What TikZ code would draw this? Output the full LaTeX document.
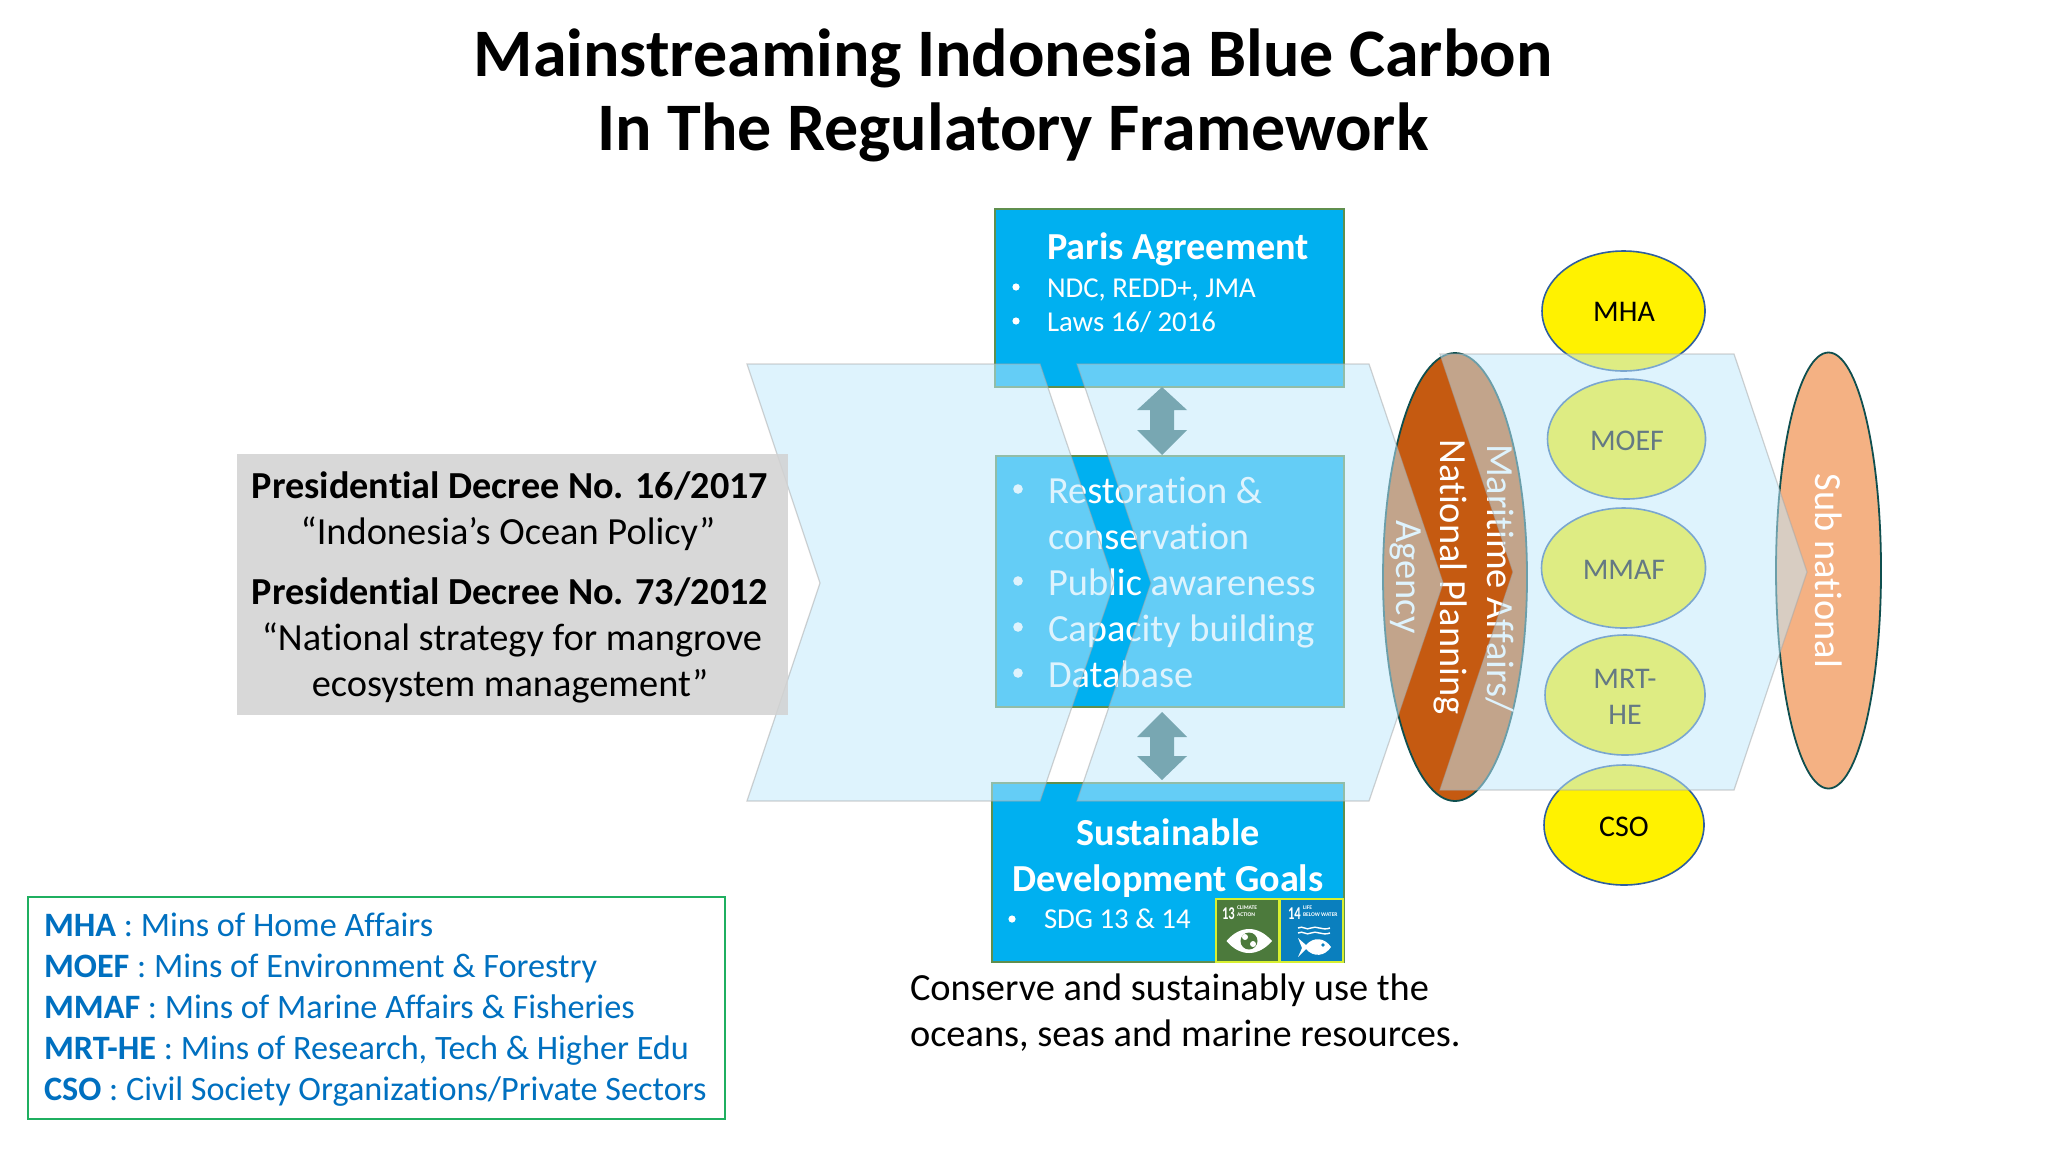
\documentclass[tikz,border=0pt]{standalone}
\usepackage{fontspec}
\setmainfont{Carlito}[Ligatures=NoCommon]
\newfontfamily\condfont{Carlito}[FakeStretch=0.7]
\definecolor{cyanbox}{HTML}{00B0F0}
\definecolor{chev}{RGB}{192,232,252}
\definecolor{boxedge}{HTML}{5F8F4E}
\definecolor{arrowc}{RGB}{42,97,98}
\definecolor{legendblue}{HTML}{0070C0}
\definecolor{legendedge}{HTML}{1FAF60}
\definecolor{ovaledge}{HTML}{2F5F9F}
\definecolor{ellipseedge}{HTML}{0F4F4F}
\definecolor{orangeel}{HTML}{C55A11}
\definecolor{peach}{HTML}{F4B183}
\definecolor{sdggreen}{HTML}{4C7A3C}
\definecolor{sdgblue}{HTML}{0A7FBE}
\definecolor{sdgedge}{HTML}{D8F030}
\definecolor{greybox}{RGB}{210,210,210}
\tikzset{
  x=0.5pt,y=-0.5pt,
  cyanrect/.style={draw=boxedge,line width=1.2pt,fill=cyanbox},
  chevshape/.style={fill=chev,fill opacity=0.52,draw=gray!70,draw opacity=0.5,line width=0.6pt},
  ovalshape/.style={draw=ovaledge,line width=0.8pt,fill=yellow},
  bigel/.style={draw=ellipseedge,line width=0.9pt},
  txt/.style={inner sep=0pt,outer sep=0pt,anchor=base west},
  ctr/.style={inner sep=0pt,outer sep=0pt,anchor=base},
  mid/.style={inner sep=0pt,outer sep=0pt,anchor=center,rotate=-90,text=white,font=\fontsize{19.2}{19.2}\selectfont},
  big/.style={font=\fontsize{19.2}{19.2}\selectfont},
  bigb/.style={font=\fontsize{19.1}{19.1}\selectfont\bfseries},
  small/.style={font=\fontsize{14.4}{14.4}\selectfont},
  ovaltext/.style={font=\fontsize{15}{15}\selectfont},
  dbl/.style={fill=arrowc,draw=none},
  sdgsq/.style={draw=sdgedge,line width=1pt},
  tiny/.style={inner sep=0pt,outer sep=0pt,anchor=base west,text=white},
  legendline/.style={inner sep=0pt,outer sep=0pt,anchor=base west,text=legendblue,font=\fontsize{17.1}{17.1}\selectfont}
}
\begin{document}
\begin{tikzpicture}
\useasboundingbox (0,0) rectangle (2048,1152);
\fill[white] (0,0) rectangle (2048,1152);
% title
\node[ctr,font=\fontsize{34}{34}\selectfont\bfseries] (title1) at (1013,76.5) {Mainstreaming Indonesia Blue Carbon};
\node[ctr,font=\fontsize{34}{34}\selectfont\bfseries] (title2) at (1013,150.5) {In The Regulatory Framework};
% cyan boxes
\draw[cyanrect] (995,209) rectangle (1344,387);
\draw[cyanrect] (996,456) rectangle (1344,707);
\draw[cyanrect] (992,783) rectangle (1344,962);
\node[txt,bigb,text=white] (parist) at (1047,259) {Paris Agreement};
\node[txt,small,text=white] (b1) at (1047,297) {NDC, REDD+, JMA};
\node[txt,small,text=white] (b2) at (1047,331) {Laws 16/ 2016};
\fill[white] (1016,287) circle (3.6) (1016,321) circle (3.6);
\node[txt,big,text=white] (m1) at (1048,503) {Restoration \&};
\node[txt,big,text=white] (m2) at (1048,549) {conservation};
\node[txt,big,text=white] (m3) at (1048,595) {Public awareness};
\node[txt,big,text=white] (m4) at (1048,641) {Capacity building};
\node[txt,big,text=white] (m5) at (1048,687) {Database};
\fill[white] (1018,489) circle (4.8) (1018,581) circle (4.8) (1018,627) circle (4.8) (1018,673) circle (4.8);
\node[ctr,bigb,text=white] (sdg1) at (1168,845) {Sustainable};
\node[ctr,bigb,text=white] (sdg2) at (1168,891) {Development Goals};
\node[txt,small,text=white] (sdgb) at (1044,928) {SDG 13 \& 14};
\fill[white] (1012,919) circle (3.6);
% SDG icons
\draw[sdgsq,fill=sdggreen] (1216,899) rectangle (1279,962);
\draw[sdgsq,fill=sdgblue] (1280,899) rectangle (1343,962);
\node[tiny,font=\condfont\fontsize{9}{9}\selectfont\bfseries] (n13) at (1222,919) {13};
\node[tiny,font=\fontsize{2.8}{3.4}\selectfont\bfseries,align=left,anchor=north west] (t13) at (1237,906) {CLIMATE\\ACTION};
\node[tiny,font=\condfont\fontsize{9}{9}\selectfont\bfseries] (n14) at (1288,919) {14};
\node[tiny,font=\fontsize{2.8}{3.4}\selectfont\bfseries,align=left,anchor=north west] (t14) at (1303,906) {LIFE\\BELOW WATER};
\fill[white] (1226.5,941) .. controls (1240,925) and (1258,925) .. (1272,941) .. controls (1258,957) and (1240,957) .. (1226.5,941) -- cycle;
\fill[sdggreen] (1249,941) circle (8.5);
\fill[white] (1245,937) circle (3) (1253,944) circle (3);
\foreach \yy in {928,933}{\draw[white,line width=0.7pt] (1298,\yy) .. controls (1303,\yy-3) and (1306,\yy+3) .. (1311,\yy) .. controls (1316,\yy-3) and (1322,\yy+3) .. (1330,\yy);}
\fill[white] (1298,938) -- (1306,945) .. controls (1314,936) and (1325,938) .. (1331,947) .. controls (1325,956) and (1314,958) .. (1306,949) -- (1298,957) -- (1302,948) -- cycle;
\fill[sdgblue] (1323,945) circle (1.8);
% double arrows
\fill[dbl] (1162,387) -- (1187,410) -- (1174,410) -- (1174,430) -- (1187,430) -- (1162,455) -- (1137,430) -- (1150,430) -- (1150,410) -- (1137,410) -- cycle;
\fill[dbl] (1162,712) -- (1187,737) -- (1174,737) -- (1174,756) -- (1187,756) -- (1162,780) -- (1137,756) -- (1150,756) -- (1150,737) -- (1137,737) -- cycle;
% big ellipses
\draw[bigel,fill=orangeel] (1455,577) ellipse (72 and 224);
\draw[bigel,fill=peach] (1828.5,570.5) ellipse (52.5 and 218);
\node[mid] (mar) at (1500,578) {Maritime Affairs/};
\node[mid] (nat) at (1451,577) {National Planning};
\node[mid] (agy) at (1405,577) {Agency};
\node[mid] (sub) at (1829,571) {Sub national};
% ovals
\draw[ovalshape] (1623.5,311) ellipse (81.5 and 60);
\draw[ovalshape] (1626.5,439) ellipse (79 and 60);
\draw[ovalshape] (1623.5,568) ellipse (82 and 60);
\draw[ovalshape] (1625,695) ellipse (80 and 60);
\draw[ovalshape] (1624,825) ellipse (80 and 60);
\node[ctr,ovaltext] (mha) at (1624,321) {MHA};
\node[ctr,ovaltext] (moef) at (1627,450) {MOEF};
\node[ctr,ovaltext] (mmaf) at (1624,579) {MMAF};
\node[ctr,ovaltext] (mrt) at (1625,688) {MRT-};
\node[ctr,ovaltext] (he) at (1625,724) {HE};
\node[ctr,ovaltext] (cso) at (1624,836) {CSO};
% chevrons
\draw[chevshape] (747,364) -- (1040,364) -- (1114,583) -- (1040,801) -- (747,801) -- (820,583) -- cycle;
\draw[chevshape] (1077,364) -- (1369,364) -- (1443,583) -- (1369,801) -- (1077,801) -- (1151,583) -- cycle;
\draw[chevshape] (1440,354) -- (1734,354) -- (1807,572) -- (1734,790) -- (1440,790) -- (1513,572) -- cycle;
% grey box
\fill[greybox,fill opacity=0.85] (237,454) rectangle (788,715);
\node[ctr,bigb] (d1) at (510,498) {Presidential Decree No. 16/2017};
\node[ctr,big] (d2) at (508,544) {“Indonesia’s Ocean Policy”};
\node[ctr,bigb] (d3) at (510,604) {Presidential Decree No. 73/2012};
\node[ctr,big] (d4) at (512,650) {“National strategy for mangrove};
\node[ctr,big] (d5) at (510,696) {ecosystem management”};
% bottom text
\node[txt,big] (c1) at (910,1000) {Conserve and sustainably use the};
\node[txt,big] (c2) at (910,1046) {oceans, seas and marine resources.};
% legend
\draw[legendedge,line width=1pt] (28,897) rectangle (725,1119);
\node[legendline] (l1) at (44,936) {\textbf{MHA} : Mins of Home Affairs};
\node[legendline] (l2) at (44,977) {\textbf{MOEF} : Mins of Environment \& Forestry};
\node[legendline] (l3) at (44,1018) {\textbf{MMAF} : Mins of Marine Affairs \& Fisheries};
\node[legendline] (l4) at (44,1059) {\textbf{MRT-HE} : Mins of Research, Tech \& Higher Edu};
\node[legendline] (l5) at (44,1100) {\textbf{CSO} : Civil Society Organizations/Private Sectors};
\end{tikzpicture}
\end{document}
